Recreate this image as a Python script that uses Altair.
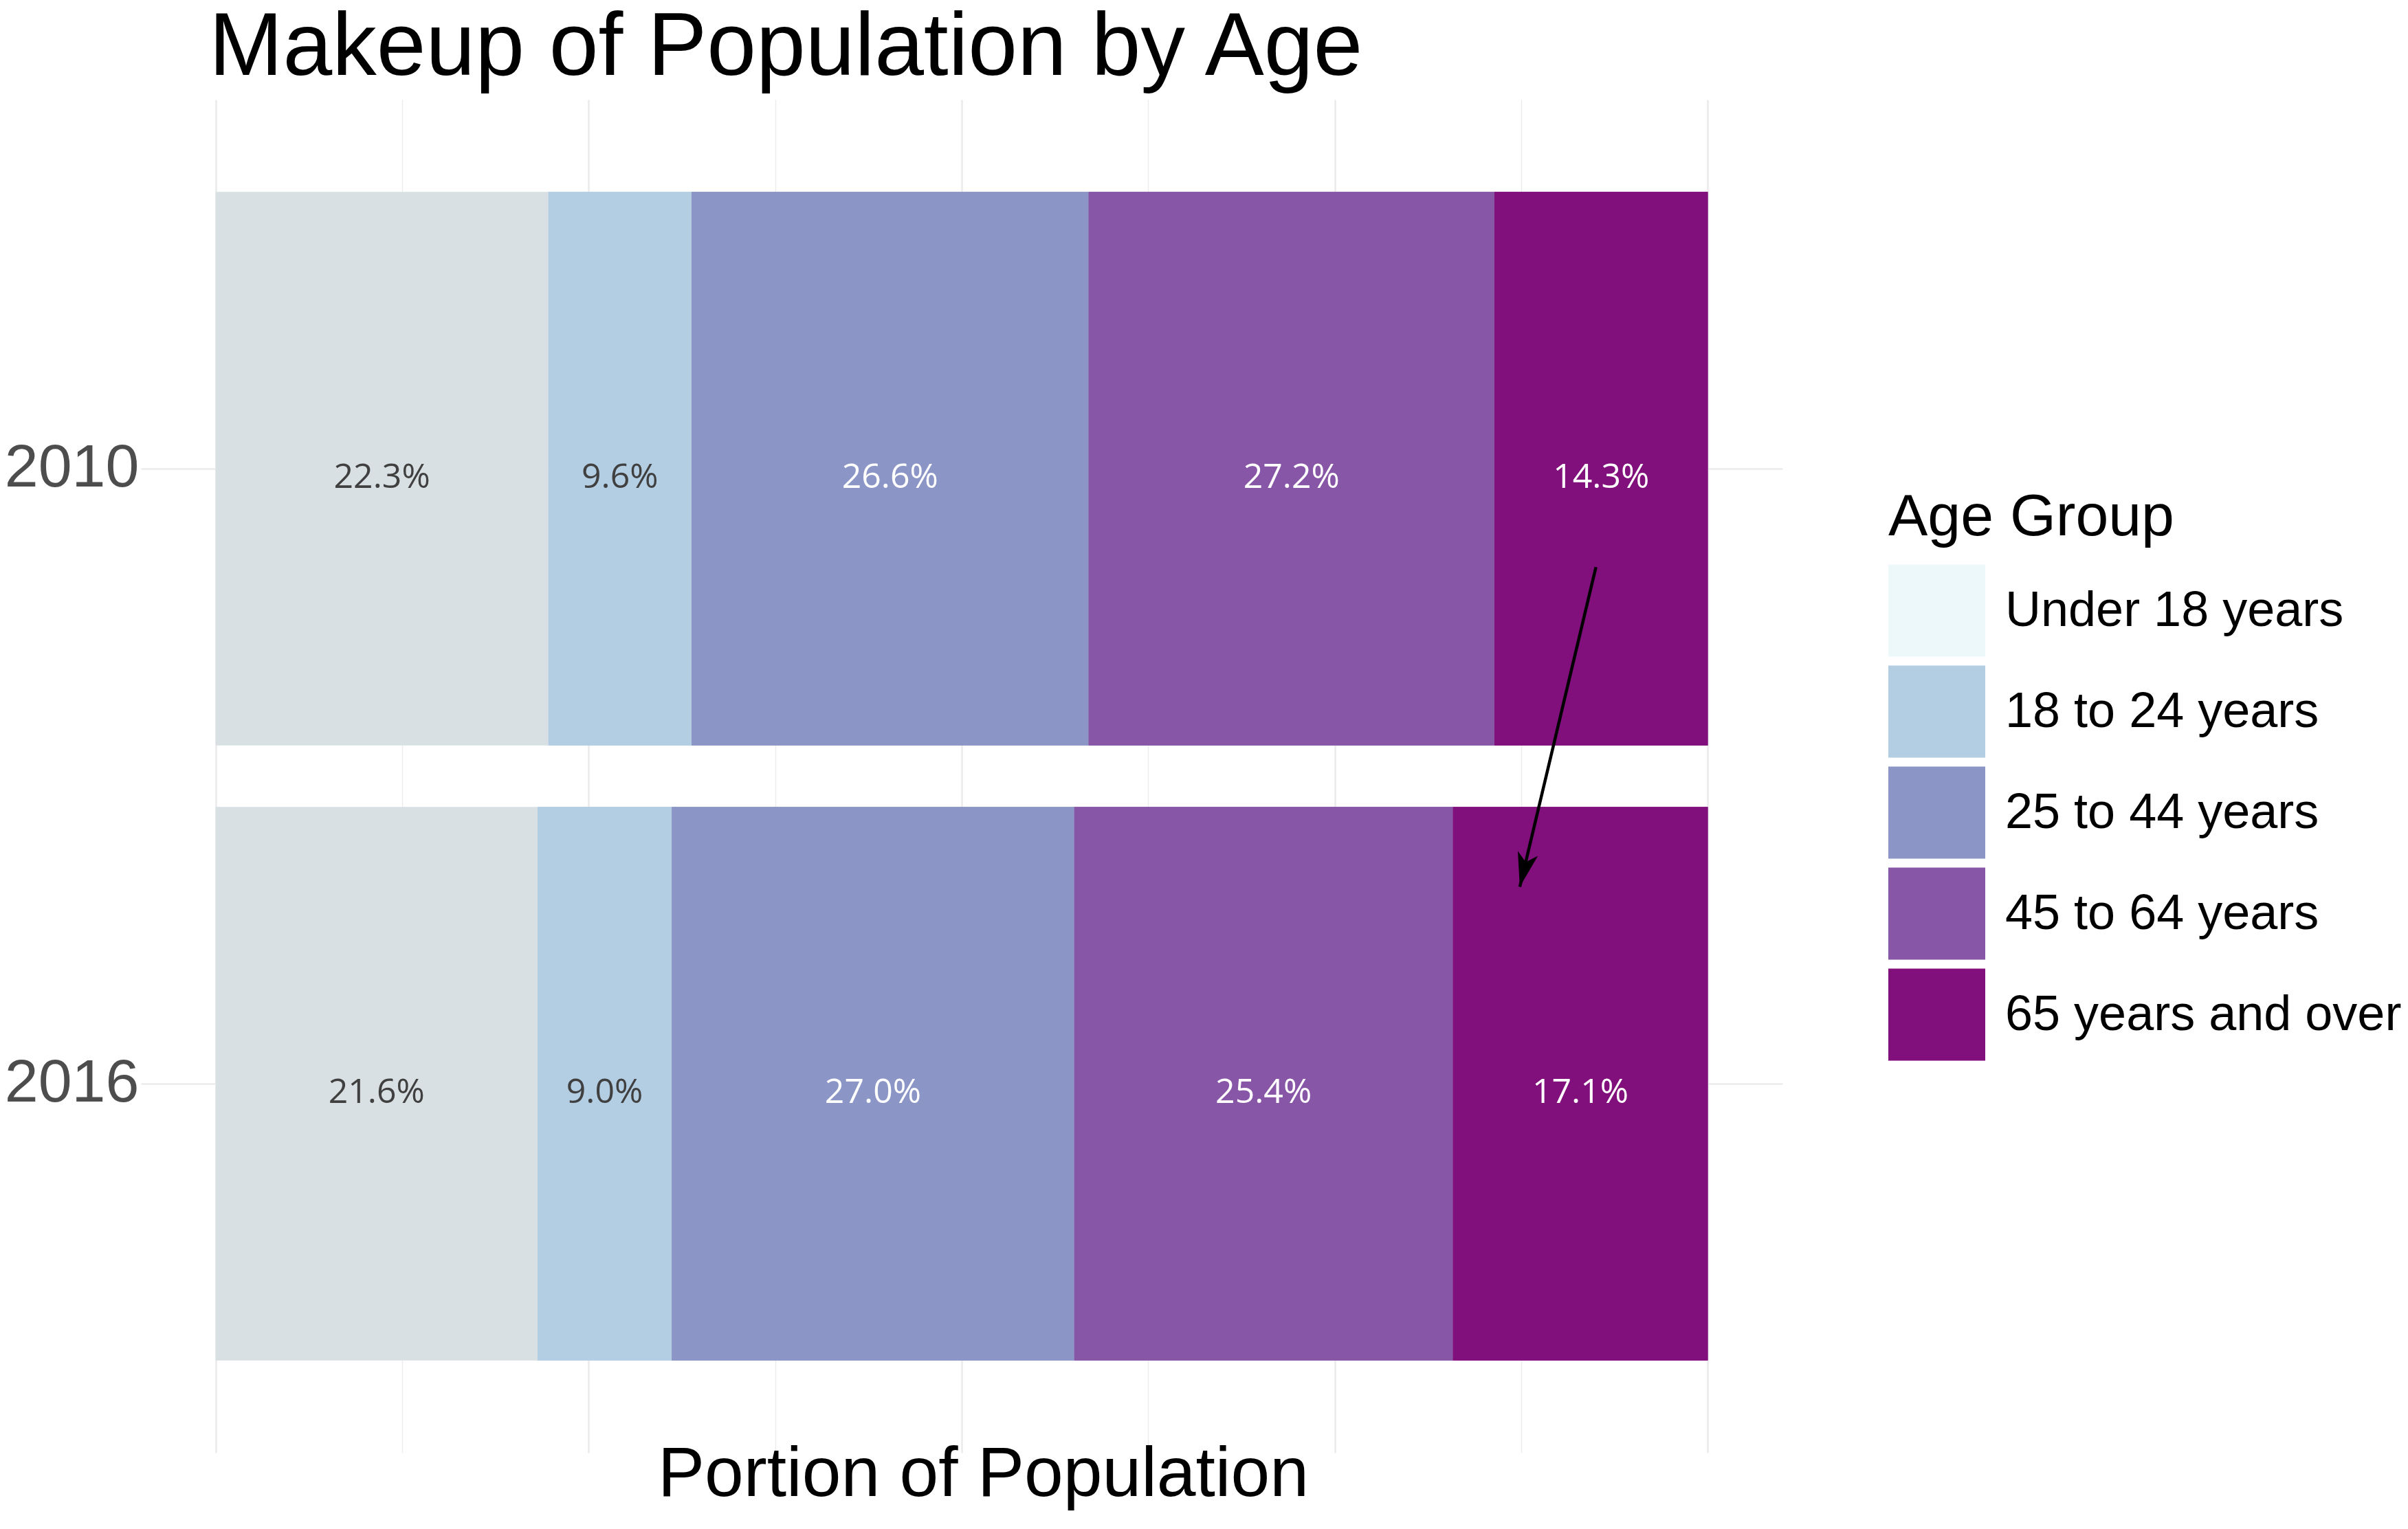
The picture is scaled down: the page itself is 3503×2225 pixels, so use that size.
import altair as alt
import pandas as pd

# ---- data ----
chart_title = "Makeup of Population by Age"
years = ["2010", "2016"]
age_groups = ["Under 18 years", "18 to 24 years", "25 to 44 years",
              "45 to 64 years", "65 years and over"]
share_2010 = [22.3, 9.6, 26.6, 27.2, 14.3]
share_2016 = [21.6, 9.0, 27.0, 25.4, 17.1]

legend_colors = ["#edf8fb", "#b3cde3", "#8c96c6", "#8856a7", "#810f7c"]
bar_colors = ["#d9e0e3", "#b3cde3", "#8c96c6", "#8856a7", "#810f7c"]
label_colors = ["#404040", "#404040", "#ffffff", "#ffffff", "#ffffff"]

x_tick_values = [0, 0.125, 0.25, 0.375, 0.5, 0.625, 0.75, 0.875, 1.0]

# annotation arrow (data units: x portion, y in discrete-position units 2016=1, 2010=2)
arrow_start_x = [0.925]
arrow_start_y = [1.84]
arrow_end_x = [0.874]
arrow_end_y = [1.32]

# ---- build tables ----
rows = []
for year, shares in zip(years, [share_2010, share_2016]):
    total = sum(shares)
    cum = 0.0
    for g, s, bc, lc in zip(age_groups, shares, bar_colors, label_colors):
        start = cum / total
        cum += s
        end = cum / total
        rows.append({"year": year, "group": g, "share": s,
                     "start": start, "end": end, "mid": (start + end) / 2,
                     "label": f"{s:.1f}%", "bar_color": bc, "label_color": lc})
df = pd.DataFrame(rows)

arrow_df = pd.DataFrame({"x0": arrow_start_x, "y0": arrow_start_y,
                         "x1": arrow_end_x, "y1": arrow_end_y})
title_df = pd.DataFrame({"t": [chart_title]})

FONT = "Liberation Sans"
x_scale = alt.Scale(domain=[-0.05, 1.05], nice=False, zero=False)
y_scale = alt.Scale(domain=years, paddingInner=0.1, paddingOuter=0.15)

x_axis = alt.Axis(
    values=x_tick_values, labels=False, ticks=False, domain=False, grid=True,
    gridColor="#ebebeb",
    gridWidth={"condition": {"test": "datum.value % 0.25 === 0", "value": 2.6}, "value": 1.3},
    title="Portion of Population", titleFont=FONT, titleFontSize=102,
    titleFontWeight="normal", titleColor="#000000",
    titleX=1225, titleY=62, titleBaseline="alphabetic", titleAlign="center",
)
y_axis = alt.Axis(
    title=None, ticks=False, domain=False, grid=True, gridColor="#ebebeb",
    gridWidth=2.6, bandPosition=0.5,
    labelFont=FONT, labelFontSize=88, labelColor="#4d4d4d", labelPadding=3,
    labelLimit=1000,
)

legend = alt.Legend(
    title="Age Group", orient="none", legendX=2542, legendY=566,
    titleFont=FONT, titleFontSize=86, titleFontWeight="normal", titleColor="#000000",
    titleBaseline="top", titlePadding=21, titleLimit=3000,
    labelFont=FONT, labelFontSize=72, labelColor="#000000", labelOffset=29,
    labelLimit=3000,
    symbolType="M-1,-0.95H1V0.95H-1Z", symbolSize=19881, symbolStrokeWidth=0,
    symbolOpacity=1, rowPadding=9,
)

base = alt.Chart(df)

bars_legend = base.mark_bar(opacity=1).encode(
    x=alt.X("start:Q", scale=x_scale, axis=x_axis),
    x2="end:Q",
    y=alt.Y("year:N", scale=y_scale, axis=y_axis, sort=years),
    color=alt.Color("group:N", scale=alt.Scale(domain=age_groups, range=legend_colors),
                    legend=legend),
)

bars_fill = base.mark_bar(opacity=1).encode(
    x=alt.X("start:Q", scale=x_scale, axis=x_axis),
    x2="end:Q",
    y=alt.Y("year:N", scale=y_scale, axis=y_axis, sort=years),
    fill=alt.Fill("bar_color:N", scale=None),
)

labels = base.mark_text(font="Open Sans", fontSize=50, dy=13).encode(
    x=alt.X("mid:Q", scale=x_scale, axis=x_axis),
    y=alt.Y("year:N", scale=y_scale, axis=y_axis, sort=years),
    text="label:N",
    fill=alt.Fill("label_color:N", scale=None),
)

y_q_scale = alt.Scale(domain=[0.4, 2.6], nice=False, zero=False)
arrow_line = alt.Chart(arrow_df).mark_rule(color="#000000", strokeWidth=4.5).encode(
    x=alt.X("x0:Q", scale=x_scale, axis=x_axis),
    x2="x1:Q",
    y=alt.Y("y0:Q", scale=y_q_scale, axis=None),
    y2="y1:Q",
)
arrow_head = alt.Chart(arrow_df).mark_point(
    shape="M0,0L-0.3,-1L0,-0.74L0.3,-1Z", size=10000, filled=True,
    color="#000000", opacity=1, angle=13.5, strokeWidth=0,
).encode(
    x=alt.X("x1:Q", scale=x_scale, axis=x_axis),
    y=alt.Y("y1:Q", scale=y_q_scale, axis=None),
)

title_text = alt.Chart(title_df).mark_text(
    font=FONT, fontSize=129, color="#000000", align="left", baseline="alphabetic",
).encode(text="t:N", x=alt.value(99), y=alt.value(-36))

chart = alt.layer(
    alt.layer(bars_legend, bars_fill, labels),
    alt.layer(arrow_line, arrow_head),
    title_text,
).resolve_scale(y="independent").properties(
    width=2388, height=1969,
    padding={"left": 197, "top": 137, "right": 902, "bottom": 103},
    autosize=alt.AutoSizeParams(type="none"),
).configure(background="#ffffff").configure_view(stroke=None)

chart.save("out.html", embed_options={"renderer": "svg", "actions": False})
